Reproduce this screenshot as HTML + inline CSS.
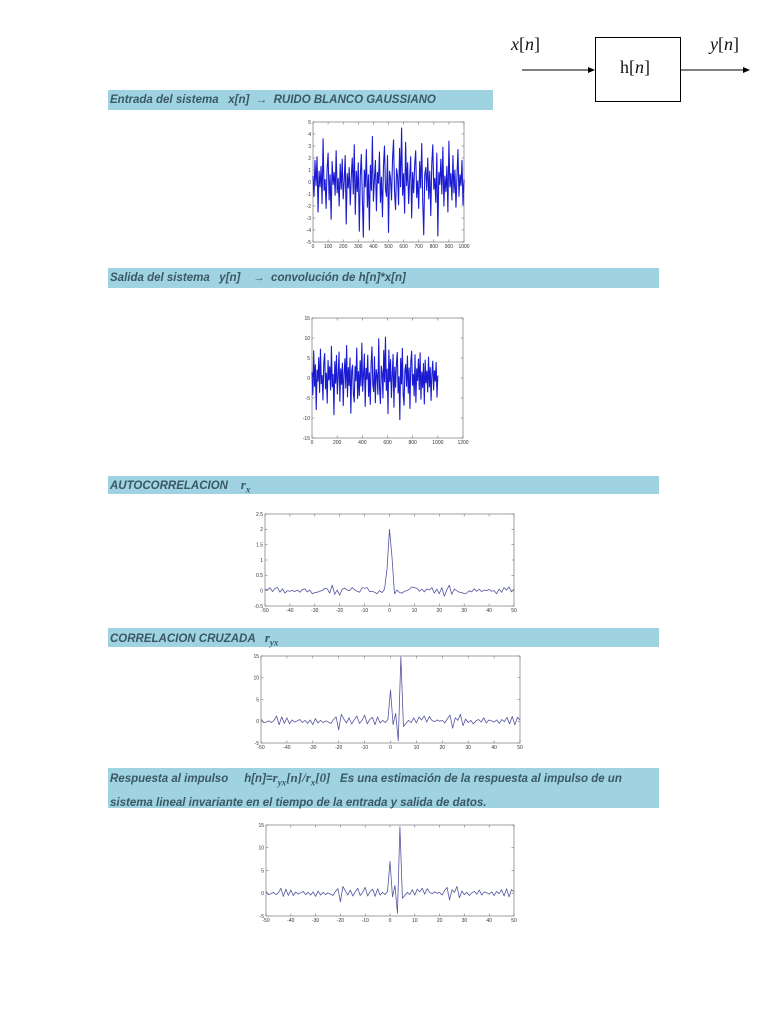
<!DOCTYPE html>
<html><head><meta charset="utf-8">
<style>
body{margin:0;background:#fff;width:768px;height:1024px;position:relative;overflow:hidden;font-family:"Liberation Sans",sans-serif}
.ban{position:absolute;left:108px;background:#9fd3e1;color:#3b5864;font-weight:bold;font-style:italic;font-size:11.5px;line-height:20px;padding-left:2px;box-sizing:border-box;white-space:pre}
.m{font-family:"Liberation Serif",serif;font-size:13px}
.ser{position:absolute;font-family:"Liberation Serif",serif;font-size:18px;color:#111}
svg{position:absolute;left:0;top:0}
</style></head><body>
<div class="ser" style="left:511px;top:34px"><i>x</i>[<i>n</i>]</div>
<div class="ser" style="left:710px;top:34px"><i>y</i>[<i>n</i>]</div>
<div style="position:absolute;left:595px;top:37px;width:84px;height:63px;border:1px solid #000"></div>
<div class="ser" style="left:620px;top:57px">h[<i>n</i>]</div>
<div class="ban" style="top:90px;width:385px;height:20px">Entrada del sistema   x[n]  →  RUIDO BLANCO GAUSSIANO</div>
<div class="ban" style="top:268px;width:551px;height:20px">Salida del sistema   y[n]    →  convolución de h[n]*x[n]</div>
<div class="ban" style="top:476px;width:551px;height:18px;line-height:18px">AUTOCORRELACION    <span class="m">r<sub style="font-size:9px">x</sub></span></div>
<div class="ban" style="top:628px;width:551px;height:19px;line-height:19px">CORRELACION CRUZADA   <span class="m">r<sub style="font-size:9px">yx</sub></span></div>
<div class="ban" style="top:768px;width:551px;height:40px;line-height:20px;white-space:normal">Respuesta al impulso &nbsp;&nbsp;&nbsp; h[n]=<span class="m">r<sub style="font-size:9px">yx</sub>[n]/r<sub style="font-size:9px">x</sub>[0]</span> &nbsp; Es una estimación de la respuesta al impulso de un sistema lineal invariante en el tiempo de la entrada y salida de datos.</div>
<svg id="s" width="768" height="1024" xmlns="http://www.w3.org/2000/svg">
<line x1="522" y1="70" x2="592" y2="70" stroke="#000"/><polygon points="595,70 588,67 588,73" fill="#000"/>
<line x1="680" y1="70" x2="746" y2="70" stroke="#000"/><polygon points="750,70 743,67 743,73" fill="#000"/>
</svg>
<script>
const noiseX=[0.5,-1.2,1.8,-0.3,2.1,-2.5,0.9,-0.4,1.3,-1.8,3.6,-0.7,0.2,-2.2,1.1,2.4,-1.5,0.6,-3.1,1.7,-0.2,0.8,-1.1,2.6,-0.9,0.3,-2.0,1.5,-0.6,1.9,-1.4,0.1,2.2,-3.5,0.7,-0.5,1.2,-1.9,0.4,2.0,-1.0,3.1,-2.7,0.9,-0.8,1.6,-4.1,0.5,2.3,-1.3,-4.6,1.0,-0.4,2.7,-2.1,0.6,-4.0,1.4,-0.7,3.8,-1.6,0.2,1.8,-2.4,0.8,-0.1,2.5,-1.7,0.4,-2.9,1.3,3.0,-0.6,-1.2,2.2,-4.2,0.9,0.3,-1.5,1.9,3.5,-0.8,-2.3,1.1,0.5,-1.9,2.8,-0.4,4.5,-1.1,0.7,-2.6,3.3,-0.3,1.6,-1.8,0.2,2.1,-3.0,0.8,-0.9,1.4,2.6,-1.3,0.1,-2.2,1.7,-0.5,3.2,-1.6,-4.4,0.6,1.2,-0.7,2.0,-1.4,0.9,-2.8,1.5,3.1,-0.6,0.3,-1.7,2.4,-4.5,0.8,-0.2,1.9,-1.0,2.9,-2.0,0.5,-0.8,1.3,-2.5,3.4,-0.4,0.7,-1.5,2.2,-0.9,1.0,-2.1,0.4,2.7,-1.2,0.6,-0.3,1.8,-1.9,0.2];
const noiseY=[1.5,-4.2,6.8,-2.1,3.3,-7.9,2.0,-0.8,5.1,-3.6,7.2,-1.4,0.6,-5.5,3.9,6.1,-2.7,1.2,-6.3,4.4,-0.5,2.8,-3.0,7.9,-2.2,0.9,-9.2,4.1,-1.3,5.6,-4.0,0.4,6.5,-5.8,2.3,-1.6,3.7,-6.9,1.1,4.8,-2.5,8.1,-4.7,2.6,-1.9,5.0,-8.8,1.8,3.2,-3.9,-6.0,2.9,-0.7,7.5,-5.1,1.6,-4.4,4.3,-2.0,8.7,-3.3,0.8,6.0,-7.1,2.4,-0.3,5.7,-4.6,1.3,-6.6,3.5,7.8,-1.7,-3.4,5.3,-6.2,2.1,0.7,-4.1,9.8,-2.6,-6.4,3.0,1.4,-5.0,6.9,-1.0,10.2,-3.1,2.2,-8.9,7.0,-0.9,4.6,-4.9,0.5,5.9,-7.3,2.7,-2.3,3.8,6.4,-3.7,0.3,-10.4,4.9,-1.5,7.4,-4.3,-6.8,1.9,3.4,-2.1,5.5,-3.8,2.5,-7.6,4.0,6.7,-1.8,0.9,-4.5,5.8,-6.1,2.3,-0.6,4.7,-2.9,6.3,-5.3,1.5,-2.4,3.6,-6.5,4.5,-1.2,1.7,-3.5,5.2,-2.2,2.6,-5.6,1.0,4.2,-3.0,1.8,-0.8,3.9,-4.8,0.6];
const rxVals=[0.05,0.02,0.1,-0.03,0.08,0.1,-0.05,0.06,-0.08,0.0,-0.02,0.01,-0.03,0.02,-0.05,0.04,0.06,-0.04,0.02,-0.1,-0.06,-0.05,-0.02,0.0,0.08,0.06,-0.08,0.18,-0.12,0.02,-0.15,0.05,0.08,0.02,0.0,0.1,0.03,-0.02,-0.05,0.1,0.08,0.1,-0.03,-0.02,-0.05,-0.1,0.0,-0.06,0.05,0.7,2.0,1.1,-0.1,0.02,-0.06,-0.08,-0.02,0.0,0.05,0.12,0.1,0.08,-0.02,0.05,-0.04,0.06,0.02,0.1,-0.08,0.05,-0.1,0.1,-0.18,0.02,0.18,-0.12,0.05,0.0,-0.05,-0.06,-0.1,-0.08,0.0,-0.04,0.06,-0.02,0.05,-0.03,0.02,0.0,0.04,-0.02,0.0,-0.1,0.05,-0.05,0.1,0.02,0.12,-0.04,0.05];
const ryxVals=[0.5,-0.3,-0.2,0.1,-0.3,0.2,1.2,-0.8,1.0,-0.5,0.8,-0.6,0.3,-0.2,0.1,0.4,-0.3,0.2,-0.5,0.3,-0.8,0.6,-0.4,0.2,-0.3,0.1,-0.2,-0.5,0.4,1.0,-2.0,1.6,0.5,-0.4,0.8,-0.6,0.3,1.2,-0.5,0.2,1.4,-0.6,0.4,0.9,-0.8,1.0,-0.4,0.2,-0.3,0.4,7.2,-0.8,1.8,-4.5,14.8,-1.2,-0.5,0.2,-0.3,0.8,-0.4,1.0,0.3,1.2,-0.2,1.1,0.2,-0.1,0.3,0.0,0.2,-0.4,0.6,1.4,-1.6,0.8,0.2,1.6,-1.0,0.5,-0.3,0.2,-0.6,0.1,0.4,-0.2,0.8,-0.4,0.3,0.1,-0.2,0.3,-0.5,0.4,-0.1,0.9,-0.6,1.1,-0.8,0.9,0.3];
const hVals=[0.4,-0.3,-0.1,0.2,-0.3,0.1,1.1,-0.7,0.9,-0.5,0.7,-0.5,0.3,-0.2,0.1,0.4,-0.3,0.2,-0.4,0.3,-0.7,0.5,-0.4,0.2,-0.3,0.1,-0.2,-0.5,0.4,1.0,-1.9,1.5,0.5,-0.4,0.7,-0.6,0.3,1.1,-0.5,0.2,1.3,-0.6,0.4,0.9,-0.7,1.0,-0.4,0.2,-0.3,0.4,7.0,-0.8,1.7,-4.4,14.6,-1.1,-0.5,0.2,-0.3,0.8,-0.4,0.9,0.3,1.1,-0.2,1.0,0.2,-0.1,0.3,0.0,0.2,-0.4,0.6,1.3,-1.5,0.8,0.2,1.5,-1.0,0.5,-0.3,0.2,-0.5,0.1,0.4,-0.2,0.7,-0.4,0.3,0.1,-0.2,0.3,-0.5,0.4,-0.1,0.8,-0.6,1.0,-0.8,0.8,0.3];
const ticksX1=[0,100,200,300,400,500,600,700,800,900,1000];
const ticksY1=[-5,-4,-3,-2,-1,0,1,2,3,4,5];
const ticksX2=[0,200,400,600,800,1000,1200];
const ticksY2=[-15,-10,-5,0,5,10,15];
const ticksXc=[-50,-40,-30,-20,-10,0,10,20,30,40,50];
const ticksY3=[-0.5,0,0.5,1,1.5,2,2.5];
const ticksY4=[-5,0,5,10,15];

const svg=document.getElementById('s');
const NS='http://www.w3.org/2000/svg';
function mk(t,a,p){const e=document.createElementNS(NS,t);for(const k in a)e.setAttribute(k,a[k]);p.appendChild(e);return e;}
function chart(name,L,T,R,B,xd,yd,tx,ty,xs,ys,col,w){
  const g=mk('g',{},svg);
  
  
  const X=v=>L+(v-xd[0])/(xd[1]-xd[0])*(R-L);
  const Y=v=>B-(v-yd[0])/(yd[1]-yd[0])*(B-T);
  const fr=mk('rect',{x:L,y:T,width:R-L,height:B-T,fill:'#fff',stroke:'#777','stroke-width':0.7},g);
  
  
  let d='';
  for(let i=0;i<ys.length;i++)d+=(i?'L':'M')+X(xs[i]).toFixed(2)+' '+Y(ys[i]).toFixed(2);
  const p=mk('path',{d:d,fill:'none',stroke:col,'stroke-width':w,'stroke-linejoin':'round'},g);
  
  
  tx.forEach(v=>{const x=X(v);
    mk('line',{x1:x,y1:B,x2:x,y2:B-2.5,stroke:'#777','stroke-width':0.6},g);
    mk('line',{x1:x,y1:T,x2:x,y2:T+2.5,stroke:'#777','stroke-width':0.6},g);
    const t=mk('text',{x:x,y:B+6,'font-size':5,'text-anchor':'middle',fill:'#333','font-family':'Liberation Sans'},g);t.textContent=v;
    
    });
  ty.forEach(v=>{const y=Y(v);
    mk('line',{x1:L,y1:y,x2:L+2.5,y2:y,stroke:'#777','stroke-width':0.6},g);
    mk('line',{x1:R,y1:y,x2:R-2.5,y2:y,stroke:'#777','stroke-width':0.6},g);
    const t=mk('text',{x:L-2,y:y+1.8,'font-size':5,'text-anchor':'end',fill:'#333','font-family':'Liberation Sans'},g);t.textContent=v;
    
    });
}
const nx1=noiseX.map((v,i)=>i*1000/(noiseX.length-1));
const nx2=noiseY.map((v,i)=>i*1000/(noiseY.length-1));
const lags=rxVals.map((v,i)=>i-50);
chart('input-noise-chart',313,122,464,242,[0,1000],[-5,5],ticksX1,ticksY1,nx1,noiseX,'#1a1ad0',1.1);
chart('output-noise-chart',312,318,463,438,[0,1200],[-15,15],ticksX2,ticksY2,nx2,noiseY,'#1a1ad0',1.1);
chart('autocorrelation-chart',265,514,514,606,[-50,50],[-0.5,2.5],ticksXc,ticksY3,lags,rxVals,'#5555a0',0.8);
chart('crosscorrelation-chart',261,656,520,743,[-50,50],[-5,15],ticksXc,ticksY4,lags,ryxVals,'#5555a0',0.8);
chart('impulse-response-chart',266,825,514,916,[-50,50],[-5,15],ticksXc,ticksY4,lags,hVals,'#5555a0',0.8);
</script>
</body></html>
